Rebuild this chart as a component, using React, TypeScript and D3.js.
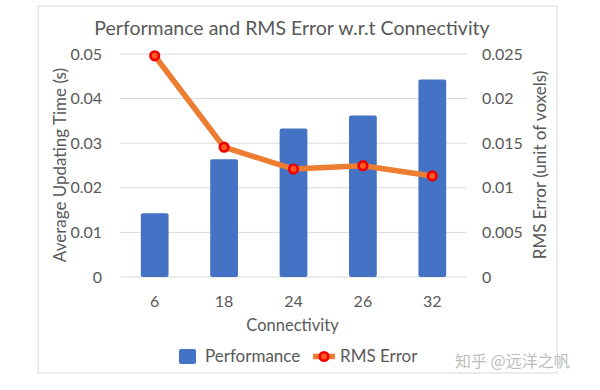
import React from 'react';
import * as d3 from 'd3';

const categories = ['6', '18', '24', '26', '32'];
const performance = [0.0143, 0.0264, 0.0333, 0.0362, 0.0443];
const rmsError = [0.0248, 0.01455, 0.0121, 0.01248, 0.01133];
const leftTicks = [0, 0.01, 0.02, 0.03, 0.04, 0.05];
const rightTicks = [0, 0.005, 0.01, 0.015, 0.02, 0.025];

const W = 600;
const H = 390;
const plot = { left: 120, right: 467, top: 54, bottom: 277 };
const font = 'Lato, "Open Sans", sans-serif';
const textColor = '#595959';

export default function App() {
  const x = d3.scaleBand<string>()
    .domain(categories)
    .range([plot.left, plot.right])
    .paddingInner(0.6)
    .paddingOuter(0.3);
  const yLeft = d3.scaleLinear().domain([0, 0.05]).range([plot.bottom, plot.top]);
  const yRight = d3.scaleLinear().domain([0, 0.025]).range([plot.bottom, plot.top]);

  const cx = (c: string) => (x(c) ?? 0) + x.bandwidth() / 2;
  const line = d3.line<number>()
    .x((_, i) => cx(categories[i]))
    .y(d => yRight(d));

  return (
    <div style={{ position: 'absolute', left: 0, top: 0 }}>
      <svg width={W} height={H} viewBox={`0 0 ${W} ${H}`} style={{ display: 'block', background: '#fff' }}>
        {/* chart frame */}
        <rect x={38} y={6} width={519} height={367} fill="#fff" stroke="#d9d9d9" strokeWidth={1} />

        <text x={292} y={35} textAnchor="middle" fontFamily={font} fontSize={19.5} fill={textColor}>
          Performance and RMS Error w.r.t Connectivity
        </text>

        {/* gridlines */}
        {leftTicks.map(t => (
          <line key={t} x1={plot.left} x2={plot.right} y1={yLeft(t)} y2={yLeft(t)} stroke="#d9d9d9" strokeWidth={1} />
        ))}

        {/* left ticks */}
        {leftTicks.map(t => (
          <text key={'l' + t} x={102} y={yLeft(t)} dy="0.35em" textAnchor="end" fontFamily={font} fontSize={16} fill={textColor}>
            {t === 0 ? '0' : d3.format('.2f')(t)}
          </text>
        ))}

        {/* right ticks */}
        {rightTicks.map(t => (
          <text key={'r' + t} x={482} y={yRight(t)} dy="0.35em" textAnchor="start" fontFamily={font} fontSize={16} fill={textColor}>
            {t === 0 ? '0' : String(t)}
          </text>
        ))}

        {/* bars */}
        {performance.map((v, i) => (
          <rect key={categories[i]} x={x(categories[i])} y={yLeft(v)} width={x.bandwidth()} height={yLeft(0) - yLeft(v)} rx={2} fill="#4472c4" />
        ))}

        {/* rms line */}
        <path d={line(rmsError) ?? ''} fill="none" stroke="#ed7d31" strokeWidth={5.5} strokeLinejoin="round" />
        {rmsError.map((v, i) => (
          <circle key={'m' + i} cx={cx(categories[i])} cy={yRight(v)} r={4.3} fill="#ff5a1f" stroke="#ee0000" strokeWidth={2.6} />
        ))}

        {/* x ticks */}
        {categories.map(c => (
          <text key={'x' + c} x={cx(c)} y={307} textAnchor="middle" fontFamily={font} fontSize={16} fill={textColor}>
            {c}
          </text>
        ))}

        <text x={292.5} y={331} textAnchor="middle" fontFamily={font} fontSize={16.5} fill={textColor}>
          Connectivity
        </text>

        <text transform={`translate(60,165) rotate(-90)`} textAnchor="middle" dy="0.35em" fontFamily={font} fontSize={17} fill={textColor}>
          Average Updating Time (s)
        </text>
        <text transform={`translate(540,165) rotate(-90)`} textAnchor="middle" dy="0.35em" fontFamily={font} fontSize={17} fill={textColor}>
          RMS Error (unit of voxels)
        </text>

        {/* legend */}
        <rect x={179} y={349} width={17} height={15} rx={2} fill="#4472c4" />
        <text x={205} y={362} fontFamily={font} fontSize={17} fill={textColor}>Performance</text>
        <line x1={313} x2={335} y1={356.5} y2={356.5} stroke="#ed7d31" strokeWidth={5.5} />
        <circle cx={324} cy={356.5} r={4.3} fill="#ff5a1f" stroke="#ee0000" strokeWidth={2.6} />
        <text x={340} y={362} fontFamily={font} fontSize={17} fill={textColor}>RMS Error</text>

        {/* watermark */}
        <text x={455} y={367} fontFamily='"Noto Sans CJK SC", sans-serif' fontSize={16} fill="#bdbdbd"
          stroke="#fff" strokeWidth={3} paintOrder="stroke" strokeLinejoin="round">
          知乎 @远洋之帆
        </text>
      </svg>
    </div>
  );
}
